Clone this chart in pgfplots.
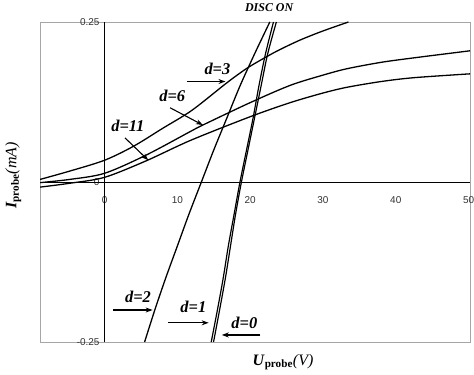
\documentclass[border=0pt]{standalone}
\usepackage{pgfplots}
\pgfplotsset{compat=1.18}
\usepackage{fontspec}
\setmainfont{Liberation Serif}
\setsansfont{Liberation Sans}
\usetikzlibrary{arrows.meta}

\pgfplotstableread{
x y
-8.87 0.004
-4.8 0.017
0 0.034
4 0.056
8 0.084
12 0.112
16.8 0.155
19.6 0.178
22.3 0.196
24.1 0.207
26.9 0.222
30 0.236
33.5 0.25
}\dthree
\pgfplotstableread{
x y
-8.87 -0.001
-4.8 0.004
0 0.0136
5.7 0.042
11.8 0.079
13.5 0.089
20 0.124
25.5 0.151
30 0.167
33.3 0.177
38 0.187
42.5 0.194
50.2 0.205
}\dsix
\pgfplotstableread{
x y
-8.87 -0.008
-4.8 -0.002
0 0.0073
5.7 0.033
11.8 0.065
20 0.102
25.5 0.124
30 0.139
33.3 0.148
38 0.157
42.5 0.163
50.2 0.169
}\deleven
\pgfplotstableread{
x y
5.5 -0.25
6.9 -0.2
8.4 -0.15
10.0 -0.1
11.6 -0.05
13.3 0
15.0 0.05
16.8 0.1
18.6 0.15
20.6 0.2
22.7 0.25
}\dtwo
\pgfplotstableread{
x y
14.65 -0.25
15.5 -0.2
16.3 -0.15
17.0 -0.1
17.8 -0.05
18.6 0
19.5 0.05
20.4 0.1
21.2 0.15
22.1 0.2
23.2 0.25
}\done
\pgfplotstableread{
x y
14.97 -0.25
15.8 -0.2
16.6 -0.15
17.3 -0.1
18.0 -0.05
18.8 0
19.7 0.05
20.6 0.1
21.5 0.15
22.4 0.2
23.6 0.25
}\dzero

\begin{document}
\begin{tikzpicture}
\path[use as bounding box] (-40bp,-33bp) rectangle (434bp,342bp);
\begin{axis}[
  at={(0,0)}, anchor=south west,
  scale only axis, width=430bp, height=320bp,
  xmin=-8.87, xmax=50.2, ymin=-0.25, ymax=0.25,
  axis line style={gray!70, line width=0.8pt},
  xtick={0,10,20,30,40,50}, xticklabels={0,10,20,30,40,50},
  ytick={-0.25,0,0.25}, yticklabels={-0.25,0,0.25},
  major tick length=0pt,
  /pgf/number format/assume math mode=true,
  ticklabel style={font=\sffamily\fontsize{10}{10}\selectfont, text=black!80},
  xticklabel style={yshift=149bp},
  yticklabel style={xshift=63bp},
  xlabel={\fontsize{16}{16}\selectfont\textbf{\textit{U}}\textsubscript{\textbf{probe}}\textit{(V)}},
  xlabel style={at={(rel axis cs:0.565,-0.0625)}, anchor=center},
  ylabel={\fontsize{16}{16}\selectfont\textbf{\textit{I}}\textsubscript{\textbf{probe}}\textit{(mA)}},
  ylabel style={at={(rel axis cs:-0.062,0.52)}, anchor=center, rotate=0},
  clip mode=individual,
]
\addplot[black, line width=1pt, no marks] coordinates {(-8.87,0) (50.2,0)};
\addplot[black, line width=1.8pt, no marks] coordinates {(0,-0.25) (0,0.25)};
\addplot[black, line width=1.3pt, smooth, no marks] table {\dthree};
\addplot[black, line width=1.3pt, smooth, no marks] table {\dsix};
\addplot[black, line width=1.3pt, smooth, no marks] table {\deleven};
\addplot[black, line width=1.3pt, smooth, no marks] table {\dtwo};
\addplot[black, line width=1.2pt, smooth, no marks] table {\done};
\addplot[black, line width=1.2pt, smooth, no marks] table {\dzero};

\node[font=\fontsize{12}{12}\selectfont\bfseries\itshape] at (rel axis cs:0.533,1.044) {DISC ON};
\begin{scope}[font=\fontsize{16.5}{16.5}\selectfont\bfseries\itshape]
\node at (axis cs:15.5,0.177) {d=3};
\node at (axis cs:9.3,0.135) {d=6};
\node at (axis cs:3.2,0.088) {d=11};
\node at (axis cs:4.6,-0.179) {d=2};
\node at (axis cs:12.2,-0.195) {d=1};
\node at (axis cs:19.2,-0.220) {d=0};
\end{scope}
\begin{scope}[line width=1.1pt, -{Stealth[length=7bp,width=5bp]}]
\draw (axis cs:11.3,0.157) -- (axis cs:16.6,0.157);
\draw (axis cs:9.0,0.116) -- (axis cs:13.5,0.089);
\draw (axis cs:2.8,0.069) -- (axis cs:6.0,0.034);
\draw (axis cs:1.2,-0.2) -- (axis cs:6.6,-0.2);
\draw (axis cs:8.7,-0.22) -- (axis cs:14.3,-0.22);
\draw (axis cs:21.4,-0.239) -- (axis cs:16.1,-0.239);
\end{scope}
\end{axis}
\end{tikzpicture}
\end{document}
